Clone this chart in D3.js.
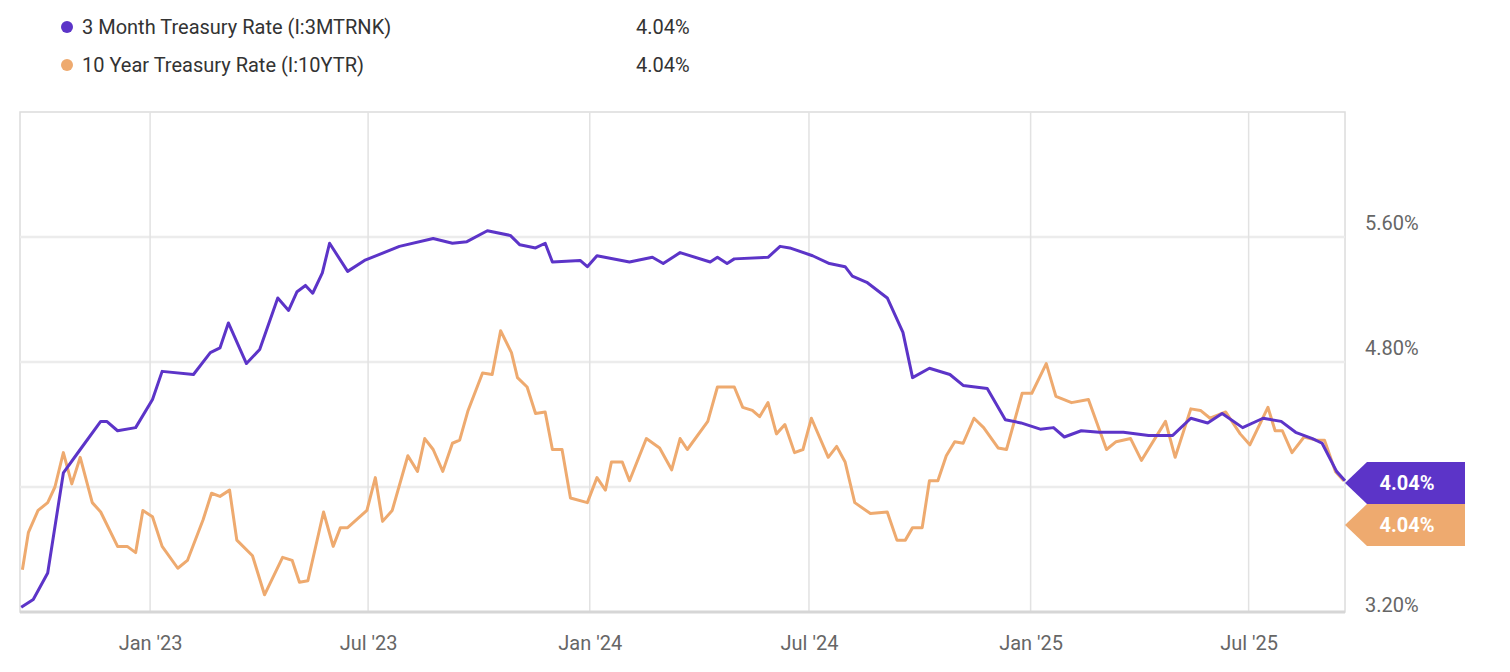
<!DOCTYPE html>
<html>
<head>
<meta charset="utf-8">
<script src="https://d3js.org/d3.v7.min.js"></script>
<style>
  body { margin: 0; background: #fff; font-family: Roboto, "Noto Sans", sans-serif; }
</style>
</head>
<body>
<svg id="chart" width="1510" height="672"></svg>
<script>
// 3ヶ月物
var threeMonthDates = ["2022-09-16","2022-09-26","2022-10-08","2022-10-21","2022-11-04","2022-11-21","2022-11-26","2022-12-05","2022-12-20","2023-01-03","2023-01-11","2023-02-06","2023-02-20","2023-02-28","2023-03-07","2023-03-22","2023-04-02","2023-04-17","2023-04-26","2023-05-03","2023-05-10","2023-05-16","2023-05-24","2023-05-30","2023-06-14","2023-06-28","2023-07-27","2023-08-24","2023-09-09","2023-09-21","2023-10-08","2023-10-27","2023-11-04","2023-11-17","2023-11-25","2023-12-01","2023-12-24","2023-12-30","2024-01-07","2024-02-03","2024-02-22","2024-03-02","2024-03-16","2024-04-10","2024-04-16","2024-04-24","2024-04-30","2024-05-28","2024-06-07","2024-06-15","2024-07-04","2024-07-18","2024-07-31","2024-08-06","2024-08-18","2024-09-04","2024-09-17","2024-09-25","2024-10-09","2024-10-26","2024-11-06","2024-11-26","2024-12-11","2024-12-24","2025-01-09","2025-01-20","2025-01-29","2025-02-12","2025-02-27","2025-03-19","2025-04-09","2025-04-29","2025-05-14","2025-05-28","2025-06-09","2025-06-26","2025-07-13","2025-07-28","2025-08-09","2025-08-23","2025-08-31","2025-09-12","2025-09-19"];
var threeMonthValues = [3.23,3.28,3.45,4.09,4.24,4.42,4.42,4.36,4.38,4.56,4.74,4.72,4.86,4.89,5.05,4.79,4.88,5.21,5.13,5.25,5.29,5.24,5.37,5.56,5.38,5.45,5.54,5.59,5.56,5.57,5.64,5.61,5.55,5.53,5.56,5.44,5.45,5.41,5.48,5.44,5.47,5.43,5.50,5.44,5.47,5.43,5.46,5.47,5.54,5.53,5.48,5.43,5.41,5.35,5.31,5.21,4.99,4.70,4.76,4.72,4.65,4.63,4.43,4.41,4.37,4.38,4.32,4.36,4.35,4.35,4.33,4.33,4.44,4.41,4.47,4.38,4.44,4.42,4.35,4.31,4.28,4.10,4.04];

// 10年物
var tenYearDates = ["2022-09-17","2022-09-22","2022-09-30","2022-10-08","2022-10-14","2022-10-21","2022-10-28","2022-11-04","2022-11-14","2022-11-21","2022-12-05","2022-12-13","2022-12-20","2022-12-26","2023-01-03","2023-01-11","2023-01-24","2023-02-01","2023-02-14","2023-02-21","2023-02-28","2023-03-08","2023-03-14","2023-03-27","2023-04-06","2023-04-21","2023-04-29","2023-05-05","2023-05-12","2023-05-25","2023-06-02","2023-06-08","2023-06-14","2023-06-30","2023-07-07","2023-07-13","2023-07-21","2023-08-03","2023-08-11","2023-08-17","2023-08-24","2023-09-01","2023-09-09","2023-09-15","2023-09-22","2023-10-04","2023-10-12","2023-10-19","2023-10-28","2023-11-02","2023-11-10","2023-11-17","2023-11-25","2023-12-01","2023-12-09","2023-12-16","2023-12-30","2024-01-07","2024-01-14","2024-01-19","2024-01-28","2024-02-03","2024-02-17","2024-02-28","2024-03-09","2024-03-16","2024-03-22","2024-04-08","2024-04-16","2024-04-30","2024-05-07","2024-05-15","2024-05-21","2024-05-28","2024-06-04","2024-06-11","2024-06-19","2024-06-26","2024-07-03","2024-07-17","2024-07-24","2024-07-31","2024-08-08","2024-08-21","2024-09-04","2024-09-12","2024-09-19","2024-09-25","2024-10-03","2024-10-09","2024-10-16","2024-10-23","2024-10-30","2024-11-06","2024-11-15","2024-11-23","2024-12-05","2024-12-12","2024-12-25","2025-01-02","2025-01-14","2025-01-22","2025-02-04","2025-02-18","2025-03-05","2025-03-13","2025-03-25","2025-04-03","2025-04-23","2025-05-01","2025-05-14","2025-05-22","2025-05-30","2025-06-12","2025-06-24","2025-07-02","2025-07-17","2025-07-23","2025-07-29","2025-08-06","2025-08-16","2025-08-26","2025-09-02","2025-09-11","2025-09-18"];
var tenYearValues = [3.47,3.71,3.85,3.90,4.00,4.22,4.02,4.19,3.90,3.84,3.62,3.62,3.58,3.85,3.81,3.62,3.48,3.53,3.79,3.96,3.94,3.98,3.66,3.56,3.31,3.55,3.53,3.39,3.40,3.84,3.62,3.74,3.74,3.85,4.06,3.78,3.85,4.20,4.10,4.31,4.24,4.10,4.28,4.30,4.49,4.73,4.72,5.00,4.86,4.70,4.64,4.47,4.48,4.24,4.24,3.93,3.90,4.06,3.98,4.16,4.16,4.04,4.31,4.25,4.11,4.31,4.24,4.42,4.64,4.64,4.51,4.49,4.45,4.54,4.34,4.40,4.22,4.24,4.44,4.19,4.26,4.16,3.90,3.83,3.84,3.66,3.66,3.74,3.74,4.04,4.04,4.20,4.29,4.28,4.44,4.38,4.25,4.24,4.60,4.60,4.79,4.58,4.54,4.56,4.24,4.29,4.31,4.17,4.42,4.19,4.50,4.49,4.44,4.48,4.34,4.27,4.51,4.36,4.36,4.22,4.32,4.30,4.30,4.10,4.04];

var seriesNames = ["3 Month Treasury Rate (I:3MTRNK)", "10 Year Treasury Rate (I:10YTR)"];
var lastValues = ["4.04%", "4.04%"];
var colors = ["#5c34c8", "#eeaa6f"];
var yTicks = [3.2, 4.0, 4.8, 5.6];
var yTickLabels = ["3.20%", "", "4.80%", "5.60%"];
var xTicks = ["2023-01-01","2023-07-01","2024-01-01","2024-07-01","2025-01-01","2025-07-01"];

var parse = d3.timeParse("%Y-%m-%d");
var series = [
  threeMonthDates.map(function(d, i) { return { date: parse(d), value: threeMonthValues[i] }; }),
  tenYearDates.map(function(d, i) { return { date: parse(d), value: tenYearValues[i] }; })
];

var plotLeft = 20, plotRight = 1345, plotTop = 112, plotBottom = 612;

var xScale = d3.scaleTime()
  .domain([parse("2022-09-15"), parse("2025-09-19")])
  .range([plotLeft, plotRight]);
var yScale = d3.scaleLinear()
  .domain([3.2, 6.4])
  .range([plotBottom, plotTop]);

var svg = d3.select("#chart");

// 枠
svg.append("rect")
  .attr("x", plotLeft).attr("y", plotTop)
  .attr("width", plotRight - plotLeft).attr("height", plotBottom - plotTop)
  .attr("fill", "none").attr("stroke", "#dcdcdc").attr("stroke-width", 1.5);

// 横グリッド
svg.append("g")
  .selectAll("line").data(yTicks.slice(1)).enter().append("line")
  .attr("x1", plotLeft).attr("x2", plotRight)
  .attr("y1", function(d) { return yScale(d); })
  .attr("y2", function(d) { return yScale(d); })
  .attr("stroke", "#ececec").attr("stroke-width", 2.5);

// 縦グリッド
svg.append("g")
  .selectAll("line").data(xTicks).enter().append("line")
  .attr("x1", function(d) { return xScale(parse(d)); })
  .attr("x2", function(d) { return xScale(parse(d)); })
  .attr("y1", plotTop).attr("y2", plotBottom)
  .attr("stroke", "#e2e2e2").attr("stroke-width", 1.5);

svg.append("line")
  .attr("x1", plotLeft).attr("x2", plotRight).attr("y1", plotBottom).attr("y2", plotBottom)
  .attr("stroke", "#d6d6d6").attr("stroke-width", 3);

// X軸ラベル
var xAxis = d3.axisBottom(xScale)
  .tickValues(xTicks.map(parse))
  .tickFormat(d3.timeFormat("%b '%y"))
  .tickSize(0).tickPadding(24);
var gx = svg.append("g").attr("transform", "translate(0," + plotBottom + ")").call(xAxis);
gx.select(".domain").remove();
gx.selectAll("text").attr("font-size", 20).attr("fill", "#666").attr("font-family", "Roboto, sans-serif");

// Y軸ラベル
var yAxis = d3.axisRight(yScale)
  .tickValues(yTicks)
  .tickFormat(function(d, i) { return yTickLabels[i]; })
  .tickSize(0).tickPadding(20);
var gy = svg.append("g").attr("transform", "translate(" + plotRight + ",0)").call(yAxis);
gy.select(".domain").remove();
gy.selectAll("text").attr("font-size", 20).attr("fill", "#666").attr("font-family", "Roboto, sans-serif")
  .attr("dy", function(d) { return d === 3.2 ? "-0.05em" : "-0.4em"; });

// 線
var line = d3.line()
  .x(function(d) { return xScale(d.date); })
  .y(function(d) { return yScale(d.value); });
[1, 0].forEach(function(i) {
  svg.append("path")
    .datum(series[i])
    .attr("d", line)
    .attr("fill", "none")
    .attr("stroke", colors[i])
    .attr("stroke-width", 3)
    .attr("stroke-linejoin", "round");
});

// 右端のラベル
var tags = [{ tip: 483, y0: 462, y1: 504 }, { tip: 525, y0: 504, y1: 546 }];
tags.forEach(function(t, i) {
  var p = [[plotRight, t.tip], [plotRight + 22, t.y0], [1465, t.y0], [1465, t.y1], [plotRight + 22, t.y1]];
  svg.append("path").attr("d", "M" + p.join("L") + "Z").attr("fill", colors[i]);
  svg.append("text")
    .attr("x", 1407).attr("y", (t.y0 + t.y1) / 2 + 7)
    .attr("text-anchor", "middle")
    .attr("font-size", 20).attr("font-weight", "bold").attr("fill", "#fff")
    .text(lastValues[i]);
});

// 凡例
seriesNames.forEach(function(name, i) {
  var y = 27 + i * 38;
  svg.append("circle").attr("cx", 67).attr("cy", y).attr("r", 6).attr("fill", colors[i]);
  svg.append("text").attr("x", 82).attr("y", y + 7)
    .attr("font-size", 20).attr("fill", "#333").text(name);
  svg.append("text").attr("x", 636).attr("y", y + 7)
    .attr("font-size", 20).attr("fill", "#333").text(lastValues[i]);
});
</script>
</body>
</html>
